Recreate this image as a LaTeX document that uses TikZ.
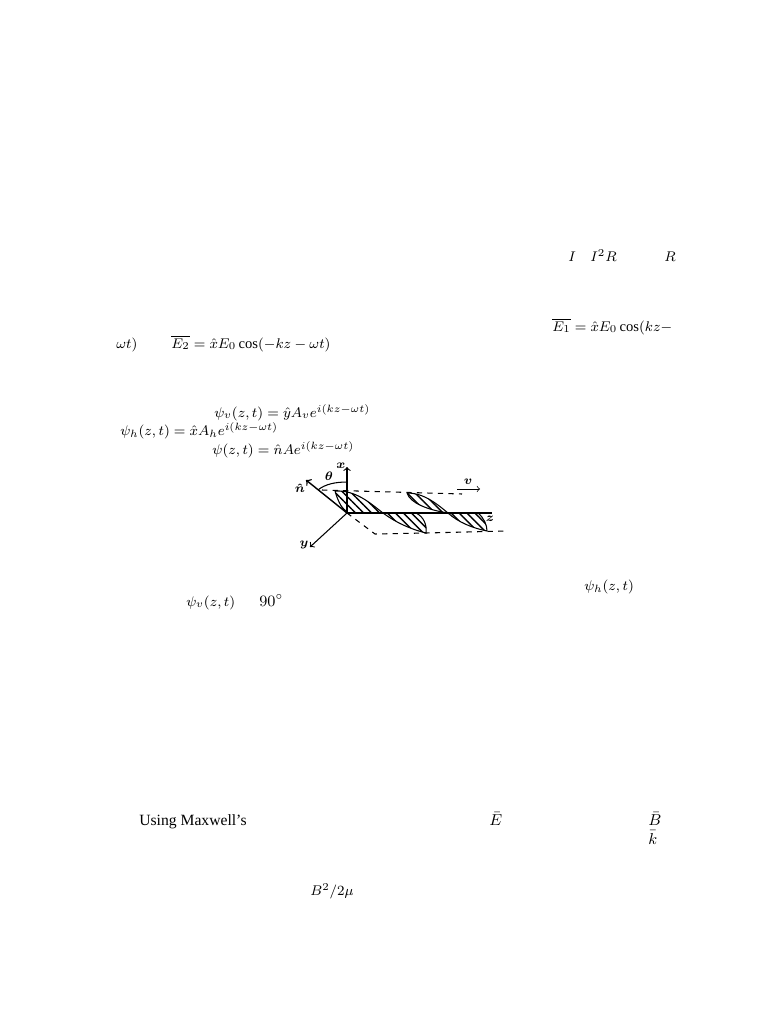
\documentclass[tikz,border=0pt]{standalone}
\usepackage{amsfonts}
\usepackage{amsmath}
\usepackage{amssymb}
\usepackage{fontspec}
\setmainfont{Liberation Serif}
\usetikzlibrary{patterns.meta}

\tikzset{
	eqn/.style={anchor=base west,inner sep=0pt,font=\fontsize{8.3}{10}\selectfont},
	prose/.style={eqn,font=\fontsize{8.9}{11}\selectfont},
	lbl/.style={inner sep=0pt,font=\fontsize{7}{8}\selectfont\boldmath},
	lobe/.style={semithick,pattern={Lines[angle=-45,distance=3.2pt,line width=0.8pt]}},
	guide/.style={dashed,semithick}
}

\begin{document}
\begin{tikzpicture}[x=0.02cm,y=-0.02cm]
	\useasboundingbox (0,0) rectangle (768,1024);

	%Equations
	\node[eqn] (cur) at (568,261) {$I$};
	\node[eqn] (pow) at (590,261) {$I^2R$};
	\node[eqn] (res) at (664,261) {$R$};
	\node[eqn] (eone) at (552,331) {$\overline{E_1}=\hat{x}E_0\cos(kz-$};
	\node[eqn] (wt) at (116,348) {$\omega t)$};
	\node[eqn] (etwo) at (171,348) {$\overline{E_2}=\hat{x}E_0\cos(-kz-\omega t)$};
	\node[eqn] (psiv) at (214,417) {$\psi_v(z,t)=\hat{y}A_ve^{i(kz-\omega t)}$};
	\node[eqn] (psih) at (120,435) {$\psi_h(z,t)=\hat{x}A_he^{i(kz-\omega t)}$};
	\node[eqn] (psi) at (212,454) {$\psi(z,t)=\hat{n}Ae^{i(kz-\omega t)}$};
	\node[eqn] (psihb) at (584,590) {$\psi_h(z,t)$};
	\node[eqn] (psivb) at (186,606) {$\psi_v(z,t)$};
	\node[prose] (deg) at (259,606) {$90^\circ$};
	\node[prose] (max) at (139,825) {Using Maxwell's};
	\node[prose] (ebar) at (489,825) {$\bar{E}$};
	\node[prose] (bbar) at (648,825) {$\bar{B}$};
	\node[prose] (kbar) at (648,844) {$\bar{k}$};
	\node[eqn] (dens) at (310,895) {$B^2/2\mu$};

	%Lobes
	\coordinate (o) at (347,513);
	\draw[lobe] (335,491) .. controls (338,502) and (343,510) .. (o) -- (383,513) .. controls (370,503) and (356,490) .. (335,491);
	\draw[lobe] (383,513) .. controls (395,522) and (410,529) .. (426,533) .. controls (427,525) and (424,517) .. (416,513) -- cycle;
	\draw[lobe] (407,493) .. controls (410,503) and (428,510) .. (448,513) .. controls (438,505) and (425,493) .. (407,493);
	\draw[lobe] (448,513) .. controls (458,522) and (472,528) .. (487,531) .. controls (487,525) and (484,518) .. (478,513) -- cycle;

	%Axis
	\coordinate (xend) at (347,467);
	\coordinate (zend) at (492,513);
	\coordinate (nend) at (306,480);
	\coordinate (yend) at (310,547);
	\draw[->,semithick] (o) -- (xend);
	\draw[->,thick] (o) -- (nend);
	\draw[->,semithick] (o) -- (yend);
	\draw[line width=1.2pt] (o) -- (zend);

	%Dashed
	\coordinate (ua) at (322,490);
	\coordinate (ub) at (462,494);
	\coordinate (la) at (375,534);
	\coordinate (lb) at (426,533);
	\coordinate (lc) at (507,531);
	\draw[guide] (ua) -- (ub);
	\draw[guide] (o) -- (la) -- (lb) -- (lc);

	%Angle and speed
	\coordinate (va) at (457,489);
	\coordinate (vb) at (480,489);
	\coordinate (aa) at (318,490);
	\coordinate (ab) at (347,482);
	\draw[->] (va) -- (vb);
	\draw[semithick] (aa) .. controls (325,484) and (336,482) .. (ab);

	%Labels
	\node[lbl] (xlab) at (341,466) {$x$};
	\node[lbl] (zlab) at (490,519) {$z$};
	\node[lbl] (ylab) at (304,545) {$y$};
	\node[lbl] (nlab) at (300,488) {$\hat{n}$};
	\node[lbl] (vlab) at (468,482) {$v$};
	\node[lbl] (tlab) at (329,476) {$\theta$};
\end{tikzpicture}
\end{document}
